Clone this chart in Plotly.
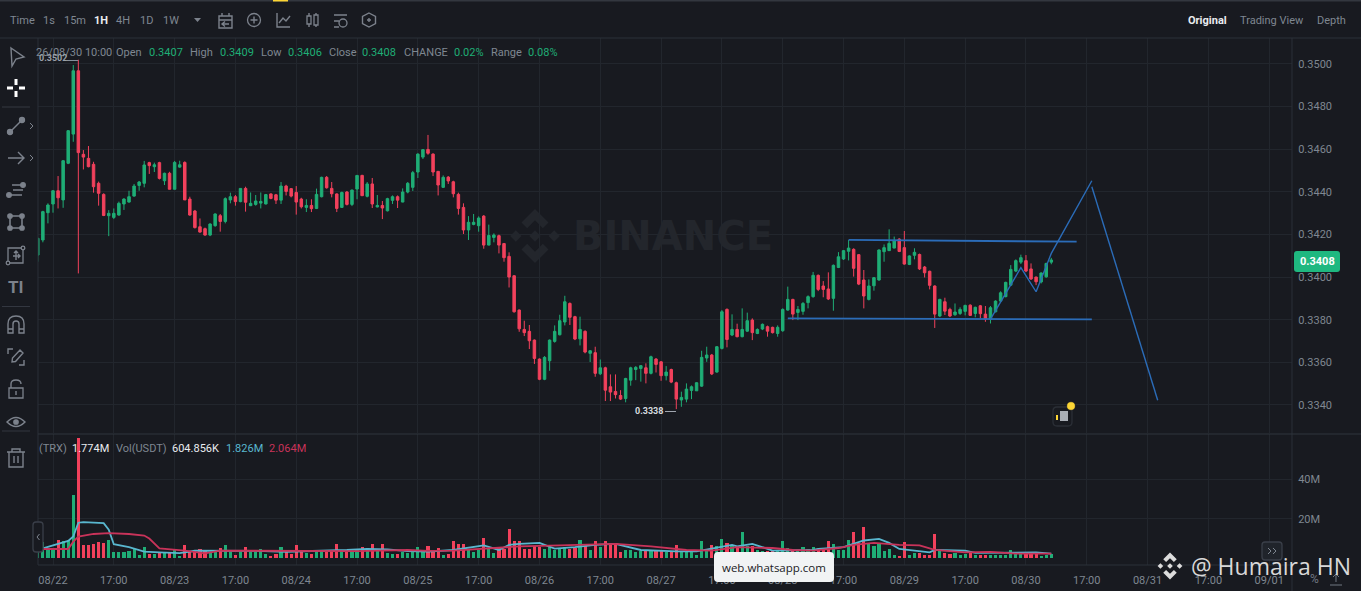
import re
import plotly.graph_objects as go

W = 1361
H = 591

# hourly candles, first one sits 3 hours before the 08/22 tick
opens = [
    .34103,.34174,.34302,.34343,.34405,.34362,.34534,.34671,.34968,.34576,
    .34557,.34529,.34440,.34388,.34288,.34280,.34291,.34343,.34352,.34380,
    .34430,.34440,.34537,.34518,.34537,.34452,.34487,.34412,.34516,.34538,
    .34366,.34310,.34236,.34227,.34197,.34241,.34288,.34261,.34362,.34377,
    .34354,.34416,.34335,.34341,.34347,.34343,.34390,.34386,.34361,.34427,
    .34415,.34397,.34366,.34327,.34336,.34322,.34377,.34468,.34416,.34390,
    .34327,.34399,.34341,.34413,.34477,.34379,.34437,.34329,.34336,.34311,
    .34360,.34377,.34352,.34399,.34421,.34493,.34563,.34599,.34577,.34496,
    .34421,.34469,.34447,.34388,.34327,.34221,.34247,.34241,.34286,.34150,
    .34186,.34194,.34157,.34097,.34006,.33845,.33754,.33745,.33704,.33615,
    .33520,.33607,.33698,.33729,.33789,.33876,.33814,.33710,.33745,.33642,
    .33645,.33546,.33574,.33485,.33463,.33444,.33430,.33516,.33566,.33571,
    .33574,.33548,.33615,.33602,.33537,.33566,.33504,.33423,.33427,.33468,
    .33466,.33488,.33620,.33634,.33554,.33665,.33848,.33728,.33754,.33720,
    .33746,.33798,.33735,.33756,.33767,.33764,.33735,.33748,.33845,.33895,
    .33834,.33839,.33880,.33908,.34008,.33958,.33944,.33900,.34045,.34085,
    .34121,.34130,.34105,.33986,.33895,.33959,.33986,.34119,.34124,.34136,
    .34178,.34138,.34059,.34102,.34106,.34047,.34027,.33958,.33817,.33884,
    .33848,.33823,.33829,.33839,.33868,.33829,.33865,.33826,.33801,.33837,
    .33887,.33908,.33962,.34028,.34070,.34077,.34038,.34000,.33977,.34001,.3407,
]
closes = [
    .34182,.34307,.34338,.34405,.34372,.34546,.34687,.34968,.34584,.34563,
    .34518,.34424,.34393,.34289,.34299,.34299,.34346,.34366,.34377,.34427,
    .34446,.34526,.34523,.34527,.34463,.34487,.34412,.34538,.34527,.34362,
    .34291,.34232,.34211,.34197,.34249,.34296,.34261,.34368,.34377,.34354,
    .34416,.34351,.34346,.34357,.34355,.34387,.34369,.34361,.34427,.34402,
    .34380,.34352,.34330,.34336,.34321,.34388,.34468,.34419,.34391,.34322,
    .34397,.34341,.34408,.34477,.34382,.34437,.34343,.34336,.34324,.34368,
    .34377,.34361,.34399,.34440,.34490,.34577,.34598,.34581,.34493,.34432,
    .34468,.34451,.34391,.34322,.34221,.34257,.34257,.34277,.34150,.34195,
    .34197,.34150,.34091,.34000,.33837,.33757,.33739,.33701,.33618,.33520,
    .33623,.33704,.33745,.33795,.33884,.33811,.33709,.33754,.33648,.33654,
    .33548,.33574,.33469,.33460,.33448,.33427,.33524,.33574,.33576,.33584,
    .33548,.33626,.33590,.33537,.33554,.33507,.33427,.33435,.33474,.33485,
    .33504,.33623,.33634,.33545,.33673,.33837,.33707,.33754,.33720,.33754,
    .33795,.33739,.33754,.33778,.33746,.33739,.33764,.33848,.33895,.33826,
    .33848,.33876,.33908,.34008,.33942,.33942,.33897,.34055,.34095,.34124,
    .34136,.34041,.33967,.33911,.33958,.33997,.34127,.34138,.34158,.34171,
    .34120,.34061,.34099,.34116,.34038,.34020,.33961,.33826,.33895,.33840,
    .33817,.33836,.33848,.33867,.33820,.33858,.33828,.33803,.33856,.33887,
    .33926,.33975,.34036,.34077,.34091,.34028,.33991,.33978,.34019,.34064,.3408,
]
highs = [
    .34182,.34311,.34346,.34408,.34474,.34549,.3469,.34995,.3502,.34596,
    .34615,.34541,.34448,.34393,.34314,.34322,.34354,.3437,.34405,.34437,
    .34451,.34545,.34541,.34537,.34541,.34490,.34494,.34545,.34546,.34543,
    .34377,.34315,.34275,.34232,.34252,.34299,.34296,.34374,.34396,.34385,
    .34416,.34424,.34397,.34385,.34397,.3439,.34393,.34390,.34446,.34433,
    .34418,.34427,.34372,.34365,.34365,.34415,.34471,.34474,.34446,.34393,
    .34401,.34404,.34411,.34479,.34480,.34446,.34465,.34385,.34357,.34372,
    .34383,.34383,.34416,.34446,.34498,.34581,.34601,.34667,.34581,.34498,
    .34477,.34474,.34452,.34396,.34346,.34286,.34296,.34285,.34291,.34246,
    .34205,.34199,.34160,.34116,.34009,.33848,.33795,.33775,.33707,.33618,
    .33629,.33707,.33773,.33823,.33912,.33881,.33818,.33814,.33750,.33657,
    .33673,.33613,.33579,.33543,.33543,.33469,.33527,.33579,.33582,.33587,
    .33595,.33631,.33620,.33606,.33582,.33570,.33509,.33462,.33501,.33491,
    .33506,.33654,.33673,.33639,.33676,.33845,.33853,.33825,.33781,.33853,
    .33833,.33806,.33759,.33782,.33772,.33767,.33773,.33853,.33955,.33898,
    .33864,.33883,.33914,.34024,.34012,.33981,.34022,.34059,.34117,.34127,
    .34174,.34135,.34108,.34033,.33989,.34000,.34130,.34153,.34224,.34190,
    .34182,.34216,.34102,.34135,.34110,.34052,.34030,.33961,.33898,.33903,
    .33856,.33876,.33858,.33870,.33872,.33861,.33869,.33864,.33864,.33891,
    .33933,.33978,.34056,.34083,.34105,.34103,.34064,.34002,.34022,.34067,.3409,
]
lows = [
    .34072,.34163,.34252,.34302,.34322,.34325,.3453,.34635,.34017,.34505,
    .34515,.34396,.34335,.34286,.34192,.34272,.34288,.34315,.34349,.34377,
    .34405,.34421,.34484,.34493,.34458,.34432,.34412,.34412,.34513,.34362,
    .34288,.34228,.34208,.34194,.34192,.34236,.34213,.34252,.34346,.34335,
    .34351,.34307,.34333,.34335,.34322,.34341,.34365,.34343,.34343,.34383,
    .34374,.34293,.34322,.34305,.34305,.34319,.34374,.34415,.34374,.34305,
    .34324,.34336,.34333,.34365,.34380,.34374,.34324,.34327,.34272,.34308,
    .34343,.34324,.34351,.34393,.34404,.34465,.34554,.34574,.34474,.34383,
    .34418,.34437,.34374,.34293,.34202,.34174,.34243,.34213,.34133,.34149,
    .34163,.34111,.34072,.33951,.33833,.33743,.33723,.33662,.33592,.33516,
    .33516,.33560,.33692,.33726,.33773,.33775,.33704,.33679,.33642,.33601,
    .33532,.33540,.33418,.33418,.33430,.33423,.33412,.33490,.33516,.33509,
    .33501,.33543,.33552,.33513,.33515,.33502,.3338,.33391,.33412,.33427,
    .33465,.33485,.33602,.33540,.33551,.33660,.33670,.33723,.33717,.33717,
    .33743,.33704,.33732,.33751,.33720,.33735,.33720,.33743,.33842,.33798,
    .33798,.33823,.33853,.33903,.33934,.33905,.33892,.33842,.34042,.34080,
    .34078,.34002,.33962,.33853,.33890,.33936,.33983,.34072,.34122,.34135,
    .34117,.34058,.34056,.34083,.34033,.33998,.33942,.33761,.33812,.33822,
    .33812,.33818,.33822,.33820,.33817,.33811,.33806,.33790,.33782,.33834,
    .33884,.33905,.33959,.34023,.34061,.34023,.33986,.33962,.33970,.33997,.3406,
]
# volume in millions
volumes = [
    4.2,8.1,4.2,4.2,9.3,8.8,9.1,31.8,61,6.8,
    6.8,7.1,8.1,7.6,9.1,3.4,3.0,3.0,3.7,4.7,
    1.7,5.6,2.0,2.2,2.5,2.5,3.4,4.1,1.4,6.8,
    3.7,4.2,4.6,3.7,2.7,3.4,5.4,6.8,3.0,1.7,
    3.4,5.7,3.4,3.0,4.7,2.0,1.4,2.4,5.9,3.0,
    2.2,6.8,3.0,2.7,2.4,4.2,4.2,3.4,4.2,7.3,
    4.2,3.7,3.9,4.2,5.7,4.2,7.3,4.2,7.1,2.5,
    2.4,2.0,3.0,2.9,3.0,5.7,3.4,6.4,4.2,5.0,
    1.9,2.2,8.6,7.3,7.3,4.2,3.0,4.2,10.3,4.9,
    2.7,5.0,4.6,14.6,9.0,8.6,4.9,4.9,6.0,5.6,
    4.9,5.6,4.2,4.9,5.6,4.9,5.2,9.3,6.0,4.2,
    8.6,5.6,9.0,6.8,7.7,3.0,4.2,4.2,3.2,3.5,
    3.9,3.5,3.5,3.5,3.0,3.5,6.8,3.5,3.2,3.0,
    1.9,8.6,4.9,6.5,6.0,10.0,7.7,6.0,5.0,13.5,
    6.0,6.0,4.2,3.5,3.5,3.5,3.5,8.6,5.0,4.0,
    4.0,5.6,4.5,5.6,4.0,5.0,9.0,7.2,4.2,4.2,
    9.3,13.3,7.7,16.0,7.7,6.0,7.0,3.5,4.9,1.9,
    1.4,8.3,1.9,2.7,2.7,1.5,1.9,12.5,3.5,2.7,
    2.4,2.7,1.9,2.4,3.5,1.9,1.5,1.5,1.9,1.9,
    1.9,1.9,4.0,2.7,2.4,2.4,2.2,2.2,1.4,1.5,2.4,
]

ma_fast_hours = [-2,1,3,4,5,6,8,10,11,12,15,18,21,25,28,34,40,46,52,58,62,66,70,74,79,82,85,88,90,92,96,99,103,107,111,116,123,127,132,134,135,138,142,150,151,156,160,163,165,167,170,173,174,180,182,190,194,197]
ma_fast_vals = [5,7.4,8.8,11,18,18.3,18.2,17.8,14.5,7.1,5.6,3.4,3,2.6,3.8,3.9,3.7,3.3,3.7,4.2,4.8,4.5,3.6,3.4,4.2,5.4,6.5,4.2,6.8,7.3,7.8,4.9,5.6,6.8,7.3,4.2,3.5,3.5,6,6.8,6,7.3,3.9,4.2,4.7,5.6,9,9.8,7.8,4.7,3.9,3,4.2,3.9,2.7,3,3,2.4]
ma_slow_hours = [-2,3,4,5,8,11,15,18,19,20,21,26,30,33,46,60,70,74,79,85,92,100,111,118,125,130,135,142,146,150,155,158,162,167,171,174,180,185,190,197]
ma_slow_vals = [4.7,4.7,8.4,11,12.3,12.7,12.3,11.5,10,7.6,5,3.9,2.5,3.9,3.7,3.6,4.2,3.7,3.9,5,6,6.5,7.3,6,4.2,3.9,5.6,5.2,4.2,3.9,5.2,6.8,7.8,6.8,6.5,4.2,3,3.2,2.4,2.4]

# drawings on the chart, hour index and price
top_line_hours = [157, 202]
top_line_prices = [.34174, .34166]
bottom_line_hours = [145, 205]
bottom_line_prices = [.33806, .33801]
zigzag_hours = [185, 191, 194, 197, 205]
zigzag_prices = [.33803, .34044, .33931, .34111, .34452]
drop_hours = [205, 218]
drop_prices = [.34424, .33422]

price_ticks = [.334, .336, .338, .340, .342, .344, .346, .348, .350]
volume_ticks = [20, 40]
volume_tick_labels = ["20M", "40M"]
time_ticks = list(range(0, 241, 12))
time_labels = ["08/22","17:00","08/23","17:00","08/24","17:00","08/25","17:00","08/26","17:00","08/27",
               "17:00","08/28","17:00","08/29","17:00","08/30","17:00","08/31","17:00","09/01"]

hours = list(range(-3, -3 + len(opens)))

BG = "#181a20"
GRID = "#22262d"
BORDER = "#2b3039"
UP = "#1fae76"
DOWN = "#f2415c"
GREY = "#7f8791"
ICON = "#7c828c"
BLUE = "#2b6cb8"
FONT = "Roboto"

fig = go.Figure()
fig.add_trace(go.Candlestick(
    x=hours, open=opens, high=highs, low=lows, close=closes,
    increasing=dict(line=dict(color=UP, width=1), fillcolor=UP),
    decreasing=dict(line=dict(color=DOWN, width=1), fillcolor=DOWN),
    whiskerwidth=0, hoverinfo="skip", showlegend=False))

bar_colors = [UP if c >= o else DOWN for o, c in zip(opens, closes)]
fig.add_trace(go.Bar(x=hours, y=volumes, yaxis="y2", width=0.62, marker=dict(color=bar_colors, line=dict(width=0)),
                     hoverinfo="skip", showlegend=False))
fig.add_trace(go.Scatter(x=ma_fast_hours, y=ma_fast_vals, yaxis="y2", mode="lines", line=dict(color="#59b7cf", width=1.8),
                         hoverinfo="skip", showlegend=False))
fig.add_trace(go.Scatter(x=ma_slow_hours, y=ma_slow_vals, yaxis="y2", mode="lines", line=dict(color="#c9335a", width=1.8),
                         hoverinfo="skip", showlegend=False))

for xs, ys, lw in [(top_line_hours, top_line_prices, 1.8), (bottom_line_hours, bottom_line_prices, 1.8),
                   (zigzag_hours, zigzag_prices, 1.4), (drop_hours, drop_prices, 1.4)]:
    fig.add_trace(go.Scatter(x=xs, y=ys, mode="lines", line=dict(color=BLUE, width=lw),
                             hoverinfo="skip", showlegend=False))

shapes = []
annotations = []


def path_px(d):
    # pixel path -> paper path, numbers alternate x / y
    out = []
    is_x = True
    for tok in re.findall(r"[A-Za-z]|-?[\d.]+", d):
        if tok.isalpha():
            out.append(tok)
            is_x = True
        else:
            v = float(tok)
            out.append(f"{v / W:.5f}" if is_x else f"{1 - v / H:.5f}")
            is_x = not is_x
    return " ".join(out)


def draw(d, color=ICON, width=1.4, fill=None, layer="above"):
    shapes.append(dict(type="path", xref="paper", yref="paper", path=path_px(d), layer=layer,
                       line=dict(color=color, width=width), fillcolor=fill if fill else "rgba(0,0,0,0)"))


def box(x0, y0, x1, y1, color=None, fill=None, width=1.3, r=0, layer="above"):
    if r:
        d = (f"M {x0+r} {y0} L {x1-r} {y0} Q {x1} {y0} {x1} {y0+r} L {x1} {y1-r} Q {x1} {y1} {x1-r} {y1} "
             f"L {x0+r} {y1} Q {x0} {y1} {x0} {y1-r} L {x0} {y0+r} Q {x0} {y0} {x0+r} {y0} Z")
    else:
        d = f"M {x0} {y0} L {x1} {y0} L {x1} {y1} L {x0} {y1} Z"
    if color is None and fill is None:
        color = ICON
    draw(d, color=color if color else "rgba(0,0,0,0)", width=width if color else 0, fill=fill, layer=layer)


def dot(cx, cy, r, fill=None, color=ICON, width=1.3):
    shapes.append(dict(type="circle", xref="paper", yref="paper", layer="above",
                       x0=(cx - r) / W, x1=(cx + r) / W, y0=1 - (cy + r) / H, y1=1 - (cy - r) / H,
                       line=dict(color=color, width=width), fillcolor=fill if fill else "rgba(0,0,0,0)"))


def label(x, y, text, color=GREY, size=11, anchor="left", bold=False, font=FONT):
    annotations.append(dict(xref="paper", yref="paper", x=x / W, y=1 - y / H, text=f"<b>{text}</b>" if bold else text,
                            showarrow=False, xanchor=anchor, yanchor="middle", borderpad=0,
                            font=dict(family=font, size=size, color=color)))


def binance_logo(cx, cy, s, color, layer):
    def poly(pts):
        return "M " + " L ".join(f"{cx + a * s} {cy + b * s}" for a, b in pts) + " Z"
    top = [(0, -1), (.5, -.5), (.29, -.29), (0, -.58), (-.29, -.29), (-.5, -.5)]
    bottom = [(a, -b) for a, b in top]
    small = .21
    for pts in [top, bottom,
                [(0, -small), (small, 0), (0, small), (-small, 0)],
                [(-.71, -small), (-.71 + small, 0), (-.71, small), (-.71 - small, 0)],
                [(.71, -small), (.71 + small, 0), (.71, small), (.71 - small, 0)]]:
        draw(poly(pts), color="rgba(0,0,0,0)", width=0, fill=color, layer=layer)


# frame lines
box(0, 0, W, 1.5, fill="#33373f")
box(273, 0, 288, 1.5, fill="#fcd535")
draw("M 0 38 L 1361 38", color=BORDER, width=1)
draw("M 38 38 L 38 565", color=BORDER, width=1)
draw("M 1292 38 L 1292 591", color=BORDER, width=1)
draw("M 38 434 L 1361 434", color="#2f343d", width=1.2)
draw("M 38 565 L 1292 565", color=BORDER, width=1)

# watermark behind the candles
binance_logo(535, 236, 27, "#23262c", "below")
label(572, 236, "BINANCE", color="#23262c", size=40, bold=True, font="DejaVu Sans")

# top bar
for x, t in [(9, "Time"), (42, "1s"), (63, "15m"), (115, "4H"), (139, "1D"), (162, "1W")]:
    label(x, 20, t)
label(93, 20, "1H", color="#eaecef", bold=True)
label(1187, 20, "Original", color="#eaecef", bold=True)
label(1239, 20, "Trading View")
label(1316, 20, "Depth")
draw("M 194 18 L 201 18 L 197.5 22 Z", color=ICON, width=0, fill=ICON)
draw("M 219 16 L 232 16 L 232 28 L 219 28 Z M 219 20 L 232 20 M 222 13 L 222 16 M 229 13 L 229 16 M 229 24 L 222 24 M 225 21.5 L 222 24 L 225 26.5")
dot(254, 20, 6.5)
draw("M 254 16.5 L 254 23.5 M 250.5 20 L 257.5 20")
draw("M 277 13 L 277 27 L 290 27 M 279 23 L 283 18 L 286 21 L 290 16")
box(307, 16, 311, 24)
box(314, 15, 318, 25)
draw("M 309 13 L 309 16 M 309 24 L 309 27 M 316 13 L 316 15 M 316 25 L 316 27")
draw("M 334 15 L 347 15 M 334 21 L 339 21 M 334 27 L 339 27")
dot(343, 23, 4)
draw("M 369 13 L 375.5 16.5 L 375.5 23.5 L 369 27 L 362.5 23.5 L 362.5 16.5 Z M 369 18 L 369 22 M 367 20 L 371 20")

# ohlc row
label(35, 53, "26/08/30 10:00")
for x, t in [(115, "Open"), (189, "High"), (260, "Low"), (328, "Close"), (403, "CHANGE"), (490, "Range")]:
    label(x, 53, t)
for x, t in [(148, "0.3407"), (219, "0.3409"), (287, "0.3406"), (361, "0.3408"), (453, "0.02%"), (527, "0.08%")]:
    label(x, 53, t, color=UP)

# high / low marks
label(38, 58, "0.3502", color="#9aa0a8", size=9, bold=True)
draw("M 67 60.5 L 78 60.5", color="#848e9c", width=1)
label(634, 411, "0.3338", color="#d5d9df", size=9, bold=True)
draw("M 665 411.5 L 676 411.5", color="#a0a6af", width=1)

# volume row
label(38, 448, "(TRX)")
label(71, 448, "1.774M", color="#eaecef")
label(115, 448, "Vol(USDT)")
label(171, 448, "604.856K", color="#eaecef")
label(225, 448, "1.826M", color="#59b7cf")
label(268, 448, "2.064M", color="#c9335a")

# last price tag
box(1294, 251, 1340, 272, fill="#1fb880", r=3)
label(1317, 261.5, f"{closes[-1]:.4f}", color="#ffffff", size=11, anchor="center", bold=True)

# left toolbar
draw("M 11 48 L 24 57 L 16 59 L 12 66 Z")
draw("M 7 88 L 13 88 M 19 88 L 25 88 M 16 79 L 16 85 M 16 91 L 16 97", color="#ffffff", width=3)
draw("M 2 107 L 30 107 M 2 306.5 L 30 306.5 M 2 431 L 30 431", color="#343841", width=1)
draw("M 10 132 L 22 120")
dot(10, 132, 2.5, fill=ICON)
dot(22, 120, 2.5, fill=ICON)
draw("M 30 123 L 33 126 L 30 129 M 30 155 L 33 158 L 30 161", width=1)
draw("M 8 158 L 24 158 M 18 152 L 24 158 L 18 164")
draw("M 12 185 L 22 185 M 13 190 L 23 190 M 11 195 L 22 195")
dot(23, 185, 2.3, fill=ICON)
dot(9, 195, 2.3, fill=ICON)
box(10, 216, 22, 228, color=ICON, width=1.6)
for cx, cy in [(10, 216), (22, 216), (10, 228), (22, 228)]:
    dot(cx, cy, 2.2, fill=ICON)
box(8, 248, 23, 263)
dot(23, 248, 1.8, fill=BG)
dot(8, 263, 1.8, fill=BG)
draw("M 16 251 L 16 260 M 13 256 L 20 256 M 18 254 L 20 256 L 18 258 M 14 253 L 16 251 L 18 253")
label(16, 287, "TI", color=ICON, size=17, anchor="center", bold=True)
draw("M 8 333 L 8 324 Q 8 316 16 316 Q 24 316 24 324 L 24 333 L 19 333 L 19 324 Q 19 321 16 321 Q 13 321 13 324 L 13 333 Z M 8 329 L 13 329 M 19 329 L 24 329")
draw("M 8 354 L 8 349 L 13 349 M 24 360 L 24 365 L 19 365 M 12 362 L 12.5 358 L 20 350 L 23 353 L 15.5 361.5 Z")
box(9, 388, 23, 398)
draw("M 11 388 L 11 384 Q 11 380 16 380 Q 21 380 21 384 M 16 391 L 16 395")
draw("M 7 422 Q 16 413 25 422 Q 16 431 7 422 Z")
dot(16, 422, 2.2, fill=ICON)
draw("M 7 452 L 25 452 M 12 452 L 12 449 L 20 449 L 20 452 M 9 452 L 9 467 L 23 467 L 23 452 M 14 456 L 14 463 M 18 456 L 18 463")

# little buttons and the news icon
box(33, 522, 43, 552, color="#3a3f49", fill=BG, r=3)
draw("M 39.5 534 L 37 537 L 39.5 540", color=GREY, width=1)
box(1262, 542, 1282, 560, color="#3a3f49", fill="#20242b", r=3)
draw("M 1268 548 L 1271 551 L 1268 554 M 1273 548 L 1276 551 L 1273 554", color=GREY, width=1)
box(1053, 407, 1072, 426, color="#2b2f36", fill=BG, r=4)
box(1060, 411, 1068, 421, fill="#a9aeb5")
box(1056, 415, 1058, 420, fill="#fcd535")
dot(1071, 406, 3.8, fill="#fcd535", color="#fcd535", width=0.5)
label(1314, 579, "%", color="#6f7680", size=12, anchor="center")
draw("M 1330 585 L 1342 585 M 1336 582 L 1336 574 M 1333 577 L 1336 574 L 1339 577", color="#6f7680", width=1)

# browser status popup and the author watermark
box(714, 552, 834, 582, fill="#f1f3f4", r=4)
label(774, 567, "web.whatsapp.com", color="#202124", size=11.5, anchor="center", font="Open Sans")
binance_logo(1170, 566, 13.5, "#dcdcdc", "above")
label(1190, 566, "@ Humaira HN", color="#d8d8d8", size=23, font="Open Sans")

fig.update_layout(
    width=W, height=H, margin=dict(l=0, r=0, t=0, b=0),
    paper_bgcolor=BG, plot_bgcolor=BG, showlegend=False, bargap=0, dragmode=False,
    font=dict(family=FONT, size=11, color=GREY),
    shapes=shapes, annotations=annotations,
    xaxis=dict(domain=[38 / W, 1292 / W], range=[-2.96, 244.5], anchor="y2",
               rangeslider=dict(visible=False),
               tickmode="array", tickvals=time_ticks, ticktext=time_labels,
               showgrid=True, gridcolor=GRID, gridwidth=1, zeroline=False, showline=False,
               ticks="outside", ticklen=5, tickcolor="rgba(0,0,0,0)",
               tickfont=dict(family=FONT, size=11, color=GREY)),
    yaxis=dict(domain=[1 - 433 / H, 1 - 38 / H], range=[.33268, .35122], side="right", anchor="x",
               tickmode="array", tickvals=price_ticks, tickformat=".4f",
               showgrid=True, gridcolor=GRID, gridwidth=1, zeroline=False, showline=False,
               ticks="outside", ticklen=3, tickcolor="rgba(0,0,0,0)",
               tickfont=dict(family=FONT, size=11, color=GREY)),
    yaxis2=dict(domain=[1 - 565 / H, 1 - 434 / H], range=[-3.4, 62.9], side="right", anchor="x",
                tickmode="array", tickvals=volume_ticks, ticktext=volume_tick_labels,
                showgrid=True, gridcolor=GRID, gridwidth=1, zeroline=False, showline=False,
                ticks="outside", ticklen=3, tickcolor="rgba(0,0,0,0)",
                tickfont=dict(family=FONT, size=11, color=GREY)),
)

fig.write_html("out.html", config=dict(displayModeBar=False),
               post_script="document.body.style.margin='0';document.body.style.overflow='hidden';document.body.style.background='#181a20';")
